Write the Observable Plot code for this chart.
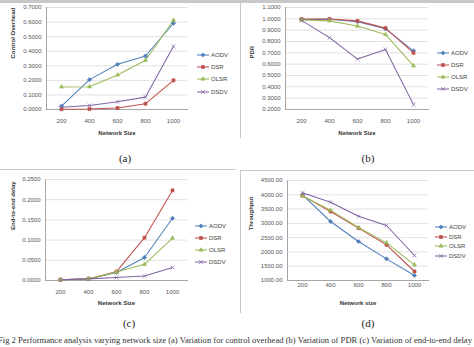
<!DOCTYPE html>
<html><head><meta charset="utf-8">
<script src="https://cdn.jsdelivr.net/npm/d3@7"></script>
<script src="https://cdn.jsdelivr.net/npm/@observablehq/plot@0.6"></script>
<style>
body{margin:0;background:#fff;}
#fig{position:relative;width:474px;height:347px;overflow:hidden;background:#fff;font-family:"Liberation Sans",Arial,sans-serif;}
.panel{position:absolute;}
.legend{position:absolute;font-size:6px;color:#444;}
.lrow{position:absolute;white-space:nowrap;}
.sub{position:absolute;font-family:"Liberation Serif","Times New Roman",serif;font-size:11px;color:#222;transform:translate(-50%,-50%);}
.caption{position:absolute;left:-2px;top:335px;white-space:nowrap;font-family:"Liberation Serif","Times New Roman",serif;font-size:8.6px;color:#333;}
.bl{position:absolute;background:#c8c8c8;}
</style></head>
<body><div id="fig"></div>
<script>
// ---- data ----
const sizes = ["200", "400", "600", "800", "1000"];
const protocols = ["AODV", "DSR", "OLSR", "DSDV"];
const colors = ["#4F81BD", "#C0504D", "#9BBB59", "#8064A2"];
const symbols = ["diamond2", "square2", "triangle2", "times"];

// (a) control overhead
const overheadAODV = [0.023, 0.205, 0.310, 0.367, 0.592];
const overheadDSR  = [0.002, 0.003, 0.010, 0.040, 0.200];
const overheadOLSR = [0.155, 0.156, 0.237, 0.338, 0.613];
const overheadDSDV = [0.016, 0.028, 0.053, 0.085, 0.434];
const overheadTicks = [0, 0.1, 0.2, 0.3, 0.4, 0.5, 0.6, 0.7];

// (b) PDR
const pdrAODV = [0.995, 0.996, 0.975, 0.912, 0.718];
const pdrDSR  = [0.998, 0.998, 0.982, 0.918, 0.700];
const pdrOLSR = [0.990, 0.982, 0.936, 0.862, 0.585];
const pdrDSDV = [0.986, 0.834, 0.645, 0.730, 0.243];
const pdrTicks = [0.2, 0.3, 0.4, 0.5, 0.6, 0.7, 0.8, 0.9, 1.0, 1.1];

// (c) end-to-end delay
const delayAODV = [0.002, 0.004, 0.020, 0.057, 0.154];
const delayDSR  = [0.002, 0.004, 0.022, 0.106, 0.223];
const delayOLSR = [0.002, 0.004, 0.021, 0.040, 0.105];
const delayDSDV = [0.002, 0.004, 0.0075, 0.011, 0.032];
const delayTicks = [0, 0.05, 0.10, 0.15, 0.20, 0.25];

// (d) throughput
const thrAODV = [3998, 3065, 2365, 1758, 1175];
const thrDSR  = [3970, 3415, 2832, 2250, 1315];
const thrOLSR = [3960, 3462, 2855, 2318, 1548];
const thrDSDV = [4068, 3742, 3252, 2925, 1875];
const thrTicks = [1000, 1500, 2000, 2500, 3000, 3500, 4000, 4500];

// ---- helpers ----
function rows(series) {
  const out = [];
  protocols.forEach((p, i) => series[i].forEach((v, j) => out.push({protocol: p, size: sizes[j], value: v})));
  return out;
}

const fig = document.getElementById("fig");

function panel(cfg) {
  const data = rows(cfg.series);
  const chart = Plot.plot({
    width: 237, height: cfg.height,
    marginLeft: cfg.ml, marginRight: cfg.mr, marginTop: cfg.mt, marginBottom: cfg.mb,
    style: {fontSize: "6px", fontFamily: "'Liberation Sans', Arial, sans-serif", color: "#444", background: "transparent", overflow: "visible"},
    x: {type: "point", domain: sizes, padding: 0.5, label: null},
    y: {domain: cfg.domain, label: null},
    color: {domain: protocols, range: colors},
    symbol: {domain: protocols, range: symbols},
    marks: [
      Plot.gridY(cfg.ticks, {stroke: "#d9d9d9", strokeOpacity: 1, strokeWidth: 0.8}),
      Plot.frame({anchor: "left", stroke: "#a6a6a6"}),
      Plot.frame({anchor: "bottom", stroke: "#a6a6a6"}),
      Plot.axisY(cfg.ticks, {tickSize: 0, tickPadding: 5, tickFormat: cfg.fmt, label: null, fill: "#555"}),
      Plot.axisX(sizes, {tickSize: 0, tickPadding: cfg.xpad, label: null, fill: "#555"}),
      Plot.line(data, {x: "size", y: "value", z: "protocol", stroke: "protocol", strokeWidth: 1.05}),
      Plot.dot(data, {x: "size", y: "value", symbol: "protocol", fill: "protocol", stroke: "protocol", strokeWidth: 0.7, r: 1.9}),
      Plot.text([cfg.ylabel], {frameAnchor: "left", rotate: -90, dx: cfg.ydx, fontWeight: "bold", fill: "#333"}),
      Plot.text([cfg.xlabel], {frameAnchor: "bottom", dy: cfg.xdy, fontWeight: "bold", fill: "#333"})
    ]
  });
  const div = document.createElement("div");
  div.className = "panel";
  div.style.left = cfg.left + "px";
  div.style.top = cfg.top + "px";
  div.appendChild(chart);
  fig.appendChild(div);

  // legend
  const leg = document.createElement("div");
  leg.className = "legend";
  leg.style.left = (cfg.left + cfg.lx) + "px";
  leg.style.top = (cfg.top + cfg.ly) + "px";
  protocols.forEach((p, i) => {
    const row = document.createElement("div");
    row.className = "lrow";
    row.style.top = (i * cfg.lgap - 4) + "px";
    const svg = d3.create("svg").attr("width", 13).attr("height", 8).style("vertical-align", "middle");
    svg.append("line").attr("x1", 0).attr("x2", 12).attr("y1", 4).attr("y2", 4).attr("stroke", colors[i]).attr("stroke-width", 1.05);
    const symMap = {diamond2: d3.symbolDiamond2, square2: d3.symbolSquare2, triangle2: d3.symbolTriangle2, times: d3.symbolTimes};
    svg.append("path").attr("transform", "translate(6,4)")
      .attr("d", d3.symbol(symMap[symbols[i]], 11)())
      .attr("fill", colors[i]).attr("stroke", colors[i]).attr("stroke-width", 0.7);
    row.appendChild(svg.node());
    const t = document.createElement("span");
    t.textContent = p;
    t.style.marginLeft = "1px";
    t.style.verticalAlign = "middle";
    row.appendChild(t);
    leg.appendChild(row);
  });
  fig.appendChild(leg);
}

// borders
function line(l, t, w, h) {
  const d = document.createElement("div");
  d.className = "bl";
  Object.assign(d.style, {left: l + "px", top: t + "px", width: w + "px", height: h + "px"});
  fig.appendChild(d);
}
line(0, 0, 474, 3);
line(240, 0, 1, 138);
line(0, 169, 236, 1);
line(240, 170, 234, 1);
line(240, 170, 1, 143);

panel({left: 0, top: 0, height: 143, ml: 46, mr: 50, mt: 7, mb: 34, series: [overheadAODV, overheadDSR, overheadOLSR, overheadDSDV],
  domain: [0, 0.7], ticks: overheadTicks, fmt: d => d.toFixed(4), ylabel: "Control Overhead", xlabel: "Network Size",
  ydx: -33, xdy: 25, xpad: 9, lx: 197, ly: 55, lgap: 12.2});
panel({left: 237, top: 0, height: 143, ml: 48, mr: 46, mt: 7, mb: 34, series: [pdrAODV, pdrDSR, pdrOLSR, pdrDSDV],
  domain: [0.2, 1.1], ticks: pdrTicks, fmt: d => d.toFixed(4), ylabel: "PDR", xlabel: "Network Size",
  ydx: -33, xdy: 25, xpad: 9, lx: 200, ly: 53, lgap: 12});
panel({left: 0, top: 165, height: 150, ml: 45, mr: 50, mt: 14, mb: 35, series: [delayAODV, delayDSR, delayOLSR, delayDSDV],
  domain: [0, 0.25], ticks: delayTicks, fmt: d => d.toFixed(4), ylabel: "End-to-end delay", xlabel: "Network Size",
  ydx: -32, xdy: 24, xpad: 9, lx: 195, ly: 61, lgap: 12});
panel({left: 237, top: 165, height: 150, ml: 50, mr: 46, mt: 15, mb: 35, series: [thrAODV, thrDSR, thrOLSR, thrDSDV],
  domain: [1000, 4500], ticks: thrTicks, fmt: d => d.toFixed(2), ylabel: "Throughput", xlabel: "Network size",
  ydx: -36, xdy: 24, xpad: 2, lx: 198, ly: 62, lgap: 9.5});

// sub-figure labels and caption
[["(a)", 125, 158], ["(b)", 368, 158], ["(c)", 129, 323], ["(d)", 368, 323]].forEach(([s, x, y]) => {
  const d = document.createElement("div");
  d.className = "sub";
  d.textContent = s;
  d.style.left = x + "px";
  d.style.top = y + "px";
  fig.appendChild(d);
});
const cap = document.createElement("div");
cap.className = "caption";
cap.textContent = "Fig 2 Performance analysis varying network size (a) Variation for control overhead (b) Variation of PDR (c) Variation of end-to-end delay (d) Variation of throughput";
fig.appendChild(cap);
</script>
</body></html>
